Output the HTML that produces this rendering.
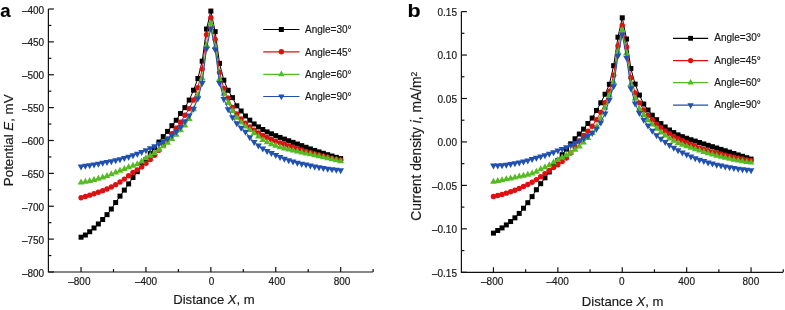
<!DOCTYPE html>
<html><head><meta charset="utf-8"><title>Figure</title>
<style>html,body{margin:0;padding:0;background:#fff;width:785px;height:310px;overflow:hidden}svg{display:block}</style>
</head><body>
<svg width="785" height="310" viewBox="0 0 785 310">
<style>
text{font-family:"Liberation Sans", Arial, sans-serif;fill:#1a1a1a;stroke:#1a1a1a;stroke-width:0.18px}
.tl{font-size:10px}
.ax{font-size:13.1px}
.pl{font-size:18.5px;font-weight:bold;fill:#000}
</style>
<rect width="785" height="310" fill="#fff"/>
<text x="0.3" y="16.8" class="pl">a</text>
<text x="407.6" y="17.2" class="pl" transform="translate(407.6,0) scale(1.13,1) translate(-407.6,0)" style="font-size:19px">b</text>
<path d="M48.40 9.00V272.00H372.90" fill="none" stroke="#111" stroke-width="1.2"/>
<path d="M48.40 9.00h5.5" stroke="#111" stroke-width="1.2"/>
<path d="M48.40 41.88h5.5" stroke="#111" stroke-width="1.2"/>
<path d="M48.40 74.75h5.5" stroke="#111" stroke-width="1.2"/>
<path d="M48.40 107.62h5.5" stroke="#111" stroke-width="1.2"/>
<path d="M48.40 140.50h5.5" stroke="#111" stroke-width="1.2"/>
<path d="M48.40 173.38h5.5" stroke="#111" stroke-width="1.2"/>
<path d="M48.40 206.25h5.5" stroke="#111" stroke-width="1.2"/>
<path d="M48.40 239.12h5.5" stroke="#111" stroke-width="1.2"/>
<path d="M48.40 272.00h5.5" stroke="#111" stroke-width="1.2"/>
<path d="M48.40 25.44h3" stroke="#111" stroke-width="1.2"/>
<path d="M48.40 58.31h3" stroke="#111" stroke-width="1.2"/>
<path d="M48.40 91.19h3" stroke="#111" stroke-width="1.2"/>
<path d="M48.40 124.06h3" stroke="#111" stroke-width="1.2"/>
<path d="M48.40 156.94h3" stroke="#111" stroke-width="1.2"/>
<path d="M48.40 189.81h3" stroke="#111" stroke-width="1.2"/>
<path d="M48.40 222.69h3" stroke="#111" stroke-width="1.2"/>
<path d="M48.40 255.56h3" stroke="#111" stroke-width="1.2"/>
<text x="44.20" y="13.50" text-anchor="end" class="tl">–400</text>
<text x="44.20" y="46.38" text-anchor="end" class="tl">–450</text>
<text x="44.20" y="79.25" text-anchor="end" class="tl">–500</text>
<text x="44.20" y="112.12" text-anchor="end" class="tl">–550</text>
<text x="44.20" y="145.00" text-anchor="end" class="tl">–600</text>
<text x="44.20" y="177.88" text-anchor="end" class="tl">–650</text>
<text x="44.20" y="210.75" text-anchor="end" class="tl">–700</text>
<text x="44.20" y="243.62" text-anchor="end" class="tl">–750</text>
<text x="44.20" y="276.50" text-anchor="end" class="tl">–800</text>
<path d="M81.05 272.00v-5" stroke="#111" stroke-width="1.2"/>
<text x="79.37" y="285.00" text-anchor="middle" class="tl">–800</text>
<path d="M145.95 272.00v-5" stroke="#111" stroke-width="1.2"/>
<text x="146.06" y="285.00" text-anchor="middle" class="tl">–400</text>
<path d="M210.85 272.00v-5" stroke="#111" stroke-width="1.2"/>
<text x="211.58" y="285.00" text-anchor="middle" class="tl">0</text>
<path d="M275.75 272.00v-5" stroke="#111" stroke-width="1.2"/>
<text x="276.93" y="285.00" text-anchor="middle" class="tl">400</text>
<path d="M340.65 272.00v-5" stroke="#111" stroke-width="1.2"/>
<text x="342.06" y="285.00" text-anchor="middle" class="tl">800</text>
<path d="M113.50 272.00v-3" stroke="#111" stroke-width="1.2"/>
<path d="M178.40 272.00v-3" stroke="#111" stroke-width="1.2"/>
<path d="M243.30 272.00v-3" stroke="#111" stroke-width="1.2"/>
<path d="M308.20 272.00v-3" stroke="#111" stroke-width="1.2"/>
<path d="M373.10 272.00v-3" stroke="#111" stroke-width="1.2"/>
<path d="M461.40 11.60V272.30H783.00" fill="none" stroke="#111" stroke-width="1.2"/>
<path d="M461.40 11.60h5.5" stroke="#111" stroke-width="1.2"/>
<path d="M461.40 55.05h5.5" stroke="#111" stroke-width="1.2"/>
<path d="M461.40 98.50h5.5" stroke="#111" stroke-width="1.2"/>
<path d="M461.40 141.95h5.5" stroke="#111" stroke-width="1.2"/>
<path d="M461.40 185.40h5.5" stroke="#111" stroke-width="1.2"/>
<path d="M461.40 228.85h5.5" stroke="#111" stroke-width="1.2"/>
<path d="M461.40 272.30h5.5" stroke="#111" stroke-width="1.2"/>
<path d="M461.40 33.32h3" stroke="#111" stroke-width="1.2"/>
<path d="M461.40 76.77h3" stroke="#111" stroke-width="1.2"/>
<path d="M461.40 120.22h3" stroke="#111" stroke-width="1.2"/>
<path d="M461.40 163.67h3" stroke="#111" stroke-width="1.2"/>
<path d="M461.40 207.12h3" stroke="#111" stroke-width="1.2"/>
<path d="M461.40 250.57h3" stroke="#111" stroke-width="1.2"/>
<text x="457.00" y="15.80" text-anchor="end" class="tl">0.15</text>
<text x="457.00" y="59.25" text-anchor="end" class="tl">0.10</text>
<text x="457.00" y="102.70" text-anchor="end" class="tl">0.05</text>
<text x="457.00" y="146.15" text-anchor="end" class="tl">0.00</text>
<text x="457.00" y="189.60" text-anchor="end" class="tl">–0.05</text>
<text x="457.00" y="233.05" text-anchor="end" class="tl">–0.10</text>
<text x="457.00" y="276.50" text-anchor="end" class="tl">–0.15</text>
<path d="M493.45 272.30v-5" stroke="#111" stroke-width="1.2"/>
<text x="492.17" y="285.30" text-anchor="middle" class="tl">–800</text>
<path d="M557.85 272.30v-5" stroke="#111" stroke-width="1.2"/>
<text x="557.67" y="285.30" text-anchor="middle" class="tl">–400</text>
<path d="M622.25 272.30v-5" stroke="#111" stroke-width="1.2"/>
<text x="621.81" y="285.30" text-anchor="middle" class="tl">0</text>
<path d="M686.65 272.30v-5" stroke="#111" stroke-width="1.2"/>
<text x="686.65" y="285.30" text-anchor="middle" class="tl">400</text>
<path d="M751.05 272.30v-5" stroke="#111" stroke-width="1.2"/>
<text x="750.90" y="285.30" text-anchor="middle" class="tl">800</text>
<path d="M525.65 272.30v-3" stroke="#111" stroke-width="1.2"/>
<path d="M590.05 272.30v-3" stroke="#111" stroke-width="1.2"/>
<path d="M654.45 272.30v-3" stroke="#111" stroke-width="1.2"/>
<path d="M718.85 272.30v-3" stroke="#111" stroke-width="1.2"/>
<path d="M783.25 272.30v-3" stroke="#111" stroke-width="1.2"/>
<text class="ax" transform="translate(12.9,140.3) rotate(-90)" text-anchor="middle" style="font-size:13.3px">Potential <tspan font-style="italic">E</tspan>, mV</text>
<text class="ax" transform="translate(421.1,146.2) rotate(-90)" text-anchor="middle" style="font-size:13.8px">Current density <tspan font-style="italic">i</tspan>, mA/m<tspan font-size="8.5px" dy="-4.5">2</tspan></text>
<text class="ax" x="214" y="304.1" text-anchor="middle">Distance <tspan font-style="italic">X</tspan>, m</text>
<text class="ax" x="622.6" y="306.2" text-anchor="middle">Distance <tspan font-style="italic">X</tspan>, m</text>
<g fill="#000000" stroke="none"><polyline points="81.05,237.21 85.38,235.03 89.70,231.74 94.03,227.99 98.36,223.95 102.68,219.50 107.01,214.65 111.34,209.01 115.66,202.56 119.99,196.13 124.32,190.13 128.64,183.89 132.97,177.46 137.30,171.67 141.62,165.66 145.95,159.57 150.28,153.62 154.60,147.79 158.93,142.09 163.26,136.59 167.58,131.40 171.91,125.69 176.24,120.25 180.56,113.54 184.89,107.61 189.22,100.08 193.54,90.20 197.87,78.52 202.20,61.18 206.52,29.04 210.85,11.07 215.18,31.63 219.50,63.34 223.83,80.18 228.16,90.31 232.48,97.63 236.81,105.81 241.14,110.98 245.46,115.97 249.79,120.18 254.12,123.97 258.44,126.89 262.77,129.50 267.10,131.90 271.42,133.80 275.75,135.66 280.08,137.41 284.40,139.10 288.73,140.75 293.06,142.38 297.38,144.02 301.71,145.66 306.04,147.29 310.36,148.89 314.69,150.42 319.02,151.89 323.34,153.32 327.67,154.71 332.00,156.05 336.32,157.36 340.65,158.61" fill="none" stroke="#000000" stroke-width="1"/>
<rect x="78.55" y="234.71" width="5.00" height="5.00"/><rect x="82.88" y="232.53" width="5.00" height="5.00"/><rect x="87.20" y="229.24" width="5.00" height="5.00"/><rect x="91.53" y="225.49" width="5.00" height="5.00"/><rect x="95.86" y="221.45" width="5.00" height="5.00"/><rect x="100.18" y="217.00" width="5.00" height="5.00"/><rect x="104.51" y="212.15" width="5.00" height="5.00"/><rect x="108.84" y="206.51" width="5.00" height="5.00"/><rect x="113.16" y="200.06" width="5.00" height="5.00"/><rect x="117.49" y="193.63" width="5.00" height="5.00"/><rect x="121.82" y="187.63" width="5.00" height="5.00"/><rect x="126.14" y="181.39" width="5.00" height="5.00"/><rect x="130.47" y="174.96" width="5.00" height="5.00"/><rect x="134.80" y="169.17" width="5.00" height="5.00"/><rect x="139.12" y="163.16" width="5.00" height="5.00"/><rect x="143.45" y="157.07" width="5.00" height="5.00"/><rect x="147.78" y="151.12" width="5.00" height="5.00"/><rect x="152.10" y="145.29" width="5.00" height="5.00"/><rect x="156.43" y="139.59" width="5.00" height="5.00"/><rect x="160.76" y="134.09" width="5.00" height="5.00"/><rect x="165.08" y="128.90" width="5.00" height="5.00"/><rect x="169.41" y="123.19" width="5.00" height="5.00"/><rect x="173.74" y="117.75" width="5.00" height="5.00"/><rect x="178.06" y="111.04" width="5.00" height="5.00"/><rect x="182.39" y="105.11" width="5.00" height="5.00"/><rect x="186.72" y="97.58" width="5.00" height="5.00"/><rect x="191.04" y="87.70" width="5.00" height="5.00"/><rect x="195.37" y="76.02" width="5.00" height="5.00"/><rect x="199.70" y="58.68" width="5.00" height="5.00"/><rect x="204.02" y="26.54" width="5.00" height="5.00"/><rect x="208.35" y="8.57" width="5.00" height="5.00"/><rect x="212.68" y="29.13" width="5.00" height="5.00"/><rect x="217.00" y="60.84" width="5.00" height="5.00"/><rect x="221.33" y="77.68" width="5.00" height="5.00"/><rect x="225.66" y="87.81" width="5.00" height="5.00"/><rect x="229.98" y="95.13" width="5.00" height="5.00"/><rect x="234.31" y="103.31" width="5.00" height="5.00"/><rect x="238.64" y="108.48" width="5.00" height="5.00"/><rect x="242.96" y="113.47" width="5.00" height="5.00"/><rect x="247.29" y="117.68" width="5.00" height="5.00"/><rect x="251.62" y="121.47" width="5.00" height="5.00"/><rect x="255.94" y="124.39" width="5.00" height="5.00"/><rect x="260.27" y="127.00" width="5.00" height="5.00"/><rect x="264.60" y="129.40" width="5.00" height="5.00"/><rect x="268.92" y="131.30" width="5.00" height="5.00"/><rect x="273.25" y="133.16" width="5.00" height="5.00"/><rect x="277.58" y="134.91" width="5.00" height="5.00"/><rect x="281.90" y="136.60" width="5.00" height="5.00"/><rect x="286.23" y="138.25" width="5.00" height="5.00"/><rect x="290.56" y="139.88" width="5.00" height="5.00"/><rect x="294.88" y="141.52" width="5.00" height="5.00"/><rect x="299.21" y="143.16" width="5.00" height="5.00"/><rect x="303.54" y="144.79" width="5.00" height="5.00"/><rect x="307.86" y="146.39" width="5.00" height="5.00"/><rect x="312.19" y="147.92" width="5.00" height="5.00"/><rect x="316.52" y="149.39" width="5.00" height="5.00"/><rect x="320.84" y="150.82" width="5.00" height="5.00"/><rect x="325.17" y="152.21" width="5.00" height="5.00"/><rect x="329.50" y="153.55" width="5.00" height="5.00"/><rect x="333.82" y="154.86" width="5.00" height="5.00"/><rect x="338.15" y="156.11" width="5.00" height="5.00"/>
</g>
<g fill="#dd1111" stroke="none"><polyline points="81.05,197.80 85.38,196.52 89.70,195.17 94.03,193.76 98.36,192.28 102.68,190.76 107.01,189.07 111.34,187.04 115.66,184.65 119.99,181.93 124.32,179.10 128.64,175.79 132.97,172.52 137.30,169.86 141.62,166.91 145.95,163.33 150.28,159.62 154.60,155.27 158.93,150.29 163.26,144.91 167.58,139.32 171.91,133.66 176.24,128.13 180.56,122.32 184.89,115.31 189.22,108.66 193.54,100.05 197.87,87.67 202.20,69.12 206.52,34.72 210.85,17.67 215.18,39.36 219.50,72.52 223.83,88.35 228.16,98.25 232.48,107.33 236.81,113.98 241.14,119.05 245.46,123.15 249.79,126.95 254.12,130.15 258.44,132.89 262.77,135.48 267.10,137.55 271.42,139.45 275.75,141.20 280.08,142.84 284.40,144.39 288.73,145.85 293.06,147.27 297.38,148.66 301.71,150.01 306.04,151.34 310.36,152.62 314.69,153.86 319.02,155.06 323.34,156.20 327.67,157.30 332.00,158.33 336.32,159.30 340.65,160.21" fill="none" stroke="#dd1111" stroke-width="1"/>
<circle cx="81.05" cy="197.80" r="2.70"/><circle cx="85.38" cy="196.52" r="2.70"/><circle cx="89.70" cy="195.17" r="2.70"/><circle cx="94.03" cy="193.76" r="2.70"/><circle cx="98.36" cy="192.28" r="2.70"/><circle cx="102.68" cy="190.76" r="2.70"/><circle cx="107.01" cy="189.07" r="2.70"/><circle cx="111.34" cy="187.04" r="2.70"/><circle cx="115.66" cy="184.65" r="2.70"/><circle cx="119.99" cy="181.93" r="2.70"/><circle cx="124.32" cy="179.10" r="2.70"/><circle cx="128.64" cy="175.79" r="2.70"/><circle cx="132.97" cy="172.52" r="2.70"/><circle cx="137.30" cy="169.86" r="2.70"/><circle cx="141.62" cy="166.91" r="2.70"/><circle cx="145.95" cy="163.33" r="2.70"/><circle cx="150.28" cy="159.62" r="2.70"/><circle cx="154.60" cy="155.27" r="2.70"/><circle cx="158.93" cy="150.29" r="2.70"/><circle cx="163.26" cy="144.91" r="2.70"/><circle cx="167.58" cy="139.32" r="2.70"/><circle cx="171.91" cy="133.66" r="2.70"/><circle cx="176.24" cy="128.13" r="2.70"/><circle cx="180.56" cy="122.32" r="2.70"/><circle cx="184.89" cy="115.31" r="2.70"/><circle cx="189.22" cy="108.66" r="2.70"/><circle cx="193.54" cy="100.05" r="2.70"/><circle cx="197.87" cy="87.67" r="2.70"/><circle cx="202.20" cy="69.12" r="2.70"/><circle cx="206.52" cy="34.72" r="2.70"/><circle cx="210.85" cy="17.67" r="2.70"/><circle cx="215.18" cy="39.36" r="2.70"/><circle cx="219.50" cy="72.52" r="2.70"/><circle cx="223.83" cy="88.35" r="2.70"/><circle cx="228.16" cy="98.25" r="2.70"/><circle cx="232.48" cy="107.33" r="2.70"/><circle cx="236.81" cy="113.98" r="2.70"/><circle cx="241.14" cy="119.05" r="2.70"/><circle cx="245.46" cy="123.15" r="2.70"/><circle cx="249.79" cy="126.95" r="2.70"/><circle cx="254.12" cy="130.15" r="2.70"/><circle cx="258.44" cy="132.89" r="2.70"/><circle cx="262.77" cy="135.48" r="2.70"/><circle cx="267.10" cy="137.55" r="2.70"/><circle cx="271.42" cy="139.45" r="2.70"/><circle cx="275.75" cy="141.20" r="2.70"/><circle cx="280.08" cy="142.84" r="2.70"/><circle cx="284.40" cy="144.39" r="2.70"/><circle cx="288.73" cy="145.85" r="2.70"/><circle cx="293.06" cy="147.27" r="2.70"/><circle cx="297.38" cy="148.66" r="2.70"/><circle cx="301.71" cy="150.01" r="2.70"/><circle cx="306.04" cy="151.34" r="2.70"/><circle cx="310.36" cy="152.62" r="2.70"/><circle cx="314.69" cy="153.86" r="2.70"/><circle cx="319.02" cy="155.06" r="2.70"/><circle cx="323.34" cy="156.20" r="2.70"/><circle cx="327.67" cy="157.30" r="2.70"/><circle cx="332.00" cy="158.33" r="2.70"/><circle cx="336.32" cy="159.30" r="2.70"/><circle cx="340.65" cy="160.21" r="2.70"/>
</g>
<g fill="#55bb22" stroke="none"><polyline points="81.05,182.52 85.38,181.82 89.70,180.94 94.03,179.92 98.36,178.77 102.68,177.54 107.01,176.04 111.34,174.34 115.66,172.62 119.99,170.81 124.32,168.96 128.64,167.25 132.97,165.83 137.30,164.22 141.62,161.62 145.95,158.37 150.28,155.62 154.60,152.92 158.93,149.78 163.26,146.28 167.58,142.71 171.91,138.96 176.24,134.83 180.56,130.31 184.89,125.48 189.22,118.89 193.54,109.31 197.87,95.25 202.20,78.40 206.52,45.56 210.85,23.58 215.18,47.12 219.50,79.15 223.83,93.71 228.16,103.01 232.48,110.91 236.81,117.68 241.14,122.54 245.46,126.54 249.79,129.94 254.12,133.09 258.44,136.52 262.77,139.89 267.10,142.37 271.42,144.19 275.75,145.78 280.08,147.16 284.40,148.40 288.73,149.53 293.06,150.60 297.38,151.60 301.71,152.49 306.04,153.43 310.36,154.37 314.69,155.32 319.02,156.28 323.34,157.25 327.67,158.22 332.00,159.21 336.32,160.20 340.65,161.21" fill="none" stroke="#55bb22" stroke-width="1"/>
<path d="M81.05 178.52L84.45 184.52L77.65 184.52Z"/><path d="M85.38 177.82L88.78 183.82L81.98 183.82Z"/><path d="M89.70 176.94L93.10 182.94L86.30 182.94Z"/><path d="M94.03 175.92L97.43 181.92L90.63 181.92Z"/><path d="M98.36 174.77L101.76 180.77L94.96 180.77Z"/><path d="M102.68 173.54L106.08 179.54L99.28 179.54Z"/><path d="M107.01 172.04L110.41 178.04L103.61 178.04Z"/><path d="M111.34 170.34L114.74 176.34L107.94 176.34Z"/><path d="M115.66 168.62L119.06 174.62L112.26 174.62Z"/><path d="M119.99 166.81L123.39 172.81L116.59 172.81Z"/><path d="M124.32 164.96L127.72 170.96L120.92 170.96Z"/><path d="M128.64 163.25L132.04 169.25L125.24 169.25Z"/><path d="M132.97 161.83L136.37 167.83L129.57 167.83Z"/><path d="M137.30 160.22L140.70 166.22L133.90 166.22Z"/><path d="M141.62 157.62L145.02 163.62L138.22 163.62Z"/><path d="M145.95 154.37L149.35 160.37L142.55 160.37Z"/><path d="M150.28 151.62L153.68 157.62L146.88 157.62Z"/><path d="M154.60 148.92L158.00 154.92L151.20 154.92Z"/><path d="M158.93 145.78L162.33 151.78L155.53 151.78Z"/><path d="M163.26 142.28L166.66 148.28L159.86 148.28Z"/><path d="M167.58 138.71L170.98 144.71L164.18 144.71Z"/><path d="M171.91 134.96L175.31 140.96L168.51 140.96Z"/><path d="M176.24 130.83L179.64 136.83L172.84 136.83Z"/><path d="M180.56 126.31L183.96 132.31L177.16 132.31Z"/><path d="M184.89 121.48L188.29 127.48L181.49 127.48Z"/><path d="M189.22 114.89L192.62 120.89L185.82 120.89Z"/><path d="M193.54 105.31L196.94 111.31L190.14 111.31Z"/><path d="M197.87 91.25L201.27 97.25L194.47 97.25Z"/><path d="M202.20 74.40L205.60 80.40L198.80 80.40Z"/><path d="M206.52 41.56L209.92 47.56L203.12 47.56Z"/><path d="M210.85 19.58L214.25 25.58L207.45 25.58Z"/><path d="M215.18 43.12L218.58 49.12L211.78 49.12Z"/><path d="M219.50 75.15L222.90 81.15L216.10 81.15Z"/><path d="M223.83 89.71L227.23 95.71L220.43 95.71Z"/><path d="M228.16 99.01L231.56 105.01L224.76 105.01Z"/><path d="M232.48 106.91L235.88 112.91L229.08 112.91Z"/><path d="M236.81 113.68L240.21 119.68L233.41 119.68Z"/><path d="M241.14 118.54L244.54 124.54L237.74 124.54Z"/><path d="M245.46 122.54L248.86 128.54L242.06 128.54Z"/><path d="M249.79 125.94L253.19 131.94L246.39 131.94Z"/><path d="M254.12 129.09L257.52 135.09L250.72 135.09Z"/><path d="M258.44 132.52L261.84 138.52L255.04 138.52Z"/><path d="M262.77 135.89L266.17 141.89L259.37 141.89Z"/><path d="M267.10 138.37L270.50 144.37L263.70 144.37Z"/><path d="M271.42 140.19L274.82 146.19L268.02 146.19Z"/><path d="M275.75 141.78L279.15 147.78L272.35 147.78Z"/><path d="M280.08 143.16L283.48 149.16L276.68 149.16Z"/><path d="M284.40 144.40L287.80 150.40L281.00 150.40Z"/><path d="M288.73 145.53L292.13 151.53L285.33 151.53Z"/><path d="M293.06 146.60L296.46 152.60L289.66 152.60Z"/><path d="M297.38 147.60L300.78 153.60L293.98 153.60Z"/><path d="M301.71 148.49L305.11 154.49L298.31 154.49Z"/><path d="M306.04 149.43L309.44 155.43L302.64 155.43Z"/><path d="M310.36 150.37L313.76 156.37L306.96 156.37Z"/><path d="M314.69 151.32L318.09 157.32L311.29 157.32Z"/><path d="M319.02 152.28L322.42 158.28L315.62 158.28Z"/><path d="M323.34 153.25L326.74 159.25L319.94 159.25Z"/><path d="M327.67 154.22L331.07 160.22L324.27 160.22Z"/><path d="M332.00 155.21L335.40 161.21L328.60 161.21Z"/><path d="M336.32 156.20L339.72 162.20L332.92 162.20Z"/><path d="M340.65 157.21L344.05 163.21L337.25 163.21Z"/>
</g>
<g fill="#2050b0" stroke="none"><polyline points="81.05,166.46 85.38,165.83 89.70,165.14 94.03,164.41 98.36,163.64 102.68,162.83 107.01,162.00 111.34,161.14 115.66,160.23 119.99,159.24 124.32,158.12 128.64,156.82 132.97,155.32 137.30,153.69 141.62,151.99 145.95,150.19 150.28,148.23 154.60,146.13 158.93,143.81 163.26,141.23 167.58,138.43 171.91,135.31 176.24,131.49 180.56,126.89 184.89,121.29 189.22,115.42 193.54,108.87 197.87,98.60 202.20,82.98 206.52,48.80 210.85,28.47 215.18,49.57 219.50,82.92 223.83,98.88 228.16,109.33 232.48,117.29 236.81,123.15 241.14,127.73 245.46,131.78 249.79,137.22 254.12,142.01 258.44,145.60 262.77,148.40 267.10,150.91 271.42,153.11 275.75,155.07 280.08,156.93 284.40,158.70 288.73,160.21 293.06,161.50 297.38,162.68 301.71,163.69 306.04,164.62 310.36,165.52 314.69,166.38 319.02,167.20 323.34,167.97 327.67,168.67 332.00,169.30 336.32,169.85 340.65,170.30" fill="none" stroke="#2050b0" stroke-width="1"/>
<path d="M81.05 170.46L84.45 164.46L77.65 164.46Z"/><path d="M85.38 169.83L88.78 163.83L81.98 163.83Z"/><path d="M89.70 169.14L93.10 163.14L86.30 163.14Z"/><path d="M94.03 168.41L97.43 162.41L90.63 162.41Z"/><path d="M98.36 167.64L101.76 161.64L94.96 161.64Z"/><path d="M102.68 166.83L106.08 160.83L99.28 160.83Z"/><path d="M107.01 166.00L110.41 160.00L103.61 160.00Z"/><path d="M111.34 165.14L114.74 159.14L107.94 159.14Z"/><path d="M115.66 164.23L119.06 158.23L112.26 158.23Z"/><path d="M119.99 163.24L123.39 157.24L116.59 157.24Z"/><path d="M124.32 162.12L127.72 156.12L120.92 156.12Z"/><path d="M128.64 160.82L132.04 154.82L125.24 154.82Z"/><path d="M132.97 159.32L136.37 153.32L129.57 153.32Z"/><path d="M137.30 157.69L140.70 151.69L133.90 151.69Z"/><path d="M141.62 155.99L145.02 149.99L138.22 149.99Z"/><path d="M145.95 154.19L149.35 148.19L142.55 148.19Z"/><path d="M150.28 152.23L153.68 146.23L146.88 146.23Z"/><path d="M154.60 150.13L158.00 144.13L151.20 144.13Z"/><path d="M158.93 147.81L162.33 141.81L155.53 141.81Z"/><path d="M163.26 145.23L166.66 139.23L159.86 139.23Z"/><path d="M167.58 142.43L170.98 136.43L164.18 136.43Z"/><path d="M171.91 139.31L175.31 133.31L168.51 133.31Z"/><path d="M176.24 135.49L179.64 129.49L172.84 129.49Z"/><path d="M180.56 130.89L183.96 124.89L177.16 124.89Z"/><path d="M184.89 125.29L188.29 119.29L181.49 119.29Z"/><path d="M189.22 119.42L192.62 113.42L185.82 113.42Z"/><path d="M193.54 112.87L196.94 106.87L190.14 106.87Z"/><path d="M197.87 102.60L201.27 96.60L194.47 96.60Z"/><path d="M202.20 86.98L205.60 80.98L198.80 80.98Z"/><path d="M206.52 52.80L209.92 46.80L203.12 46.80Z"/><path d="M210.85 32.47L214.25 26.47L207.45 26.47Z"/><path d="M215.18 53.57L218.58 47.57L211.78 47.57Z"/><path d="M219.50 86.92L222.90 80.92L216.10 80.92Z"/><path d="M223.83 102.88L227.23 96.88L220.43 96.88Z"/><path d="M228.16 113.33L231.56 107.33L224.76 107.33Z"/><path d="M232.48 121.29L235.88 115.29L229.08 115.29Z"/><path d="M236.81 127.15L240.21 121.15L233.41 121.15Z"/><path d="M241.14 131.73L244.54 125.73L237.74 125.73Z"/><path d="M245.46 135.78L248.86 129.78L242.06 129.78Z"/><path d="M249.79 141.22L253.19 135.22L246.39 135.22Z"/><path d="M254.12 146.01L257.52 140.01L250.72 140.01Z"/><path d="M258.44 149.60L261.84 143.60L255.04 143.60Z"/><path d="M262.77 152.40L266.17 146.40L259.37 146.40Z"/><path d="M267.10 154.91L270.50 148.91L263.70 148.91Z"/><path d="M271.42 157.11L274.82 151.11L268.02 151.11Z"/><path d="M275.75 159.07L279.15 153.07L272.35 153.07Z"/><path d="M280.08 160.93L283.48 154.93L276.68 154.93Z"/><path d="M284.40 162.70L287.80 156.70L281.00 156.70Z"/><path d="M288.73 164.21L292.13 158.21L285.33 158.21Z"/><path d="M293.06 165.50L296.46 159.50L289.66 159.50Z"/><path d="M297.38 166.68L300.78 160.68L293.98 160.68Z"/><path d="M301.71 167.69L305.11 161.69L298.31 161.69Z"/><path d="M306.04 168.62L309.44 162.62L302.64 162.62Z"/><path d="M310.36 169.52L313.76 163.52L306.96 163.52Z"/><path d="M314.69 170.38L318.09 164.38L311.29 164.38Z"/><path d="M319.02 171.20L322.42 165.20L315.62 165.20Z"/><path d="M323.34 171.97L326.74 165.97L319.94 165.97Z"/><path d="M327.67 172.67L331.07 166.67L324.27 166.67Z"/><path d="M332.00 173.30L335.40 167.30L328.60 167.30Z"/><path d="M336.32 173.85L339.72 167.85L332.92 167.85Z"/><path d="M340.65 174.30L344.05 168.30L337.25 168.30Z"/>
</g>
<g fill="#000000" stroke="none"><polyline points="493.45,233.12 497.74,230.48 502.04,227.91 506.33,224.92 510.62,221.54 514.92,217.84 519.21,213.42 523.50,208.22 527.80,202.73 532.09,196.60 536.38,189.73 540.68,183.68 544.97,177.80 549.26,171.99 553.56,166.16 557.85,160.38 562.14,154.69 566.44,149.14 570.73,143.80 575.02,138.75 579.32,134.03 583.61,129.12 587.90,123.54 592.20,118.06 596.49,110.48 600.78,102.81 605.08,94.26 609.37,84.29 613.66,65.67 617.96,37.19 622.25,17.81 626.54,39.05 630.84,68.47 635.13,84.09 639.42,95.05 643.72,104.03 648.01,110.01 652.30,115.20 656.60,119.70 660.89,123.59 665.18,126.99 669.48,129.98 673.77,132.58 678.06,134.88 682.36,136.68 686.65,138.26 690.94,139.71 695.24,141.10 699.53,142.51 703.82,143.93 708.12,145.32 712.41,146.68 716.70,148.03 721.00,149.39 725.29,150.77 729.58,152.15 733.88,153.53 738.17,154.92 742.46,156.30 746.76,157.69 751.05,159.08" fill="none" stroke="#000000" stroke-width="1"/>
<rect x="490.95" y="230.62" width="5.00" height="5.00"/><rect x="495.24" y="227.98" width="5.00" height="5.00"/><rect x="499.54" y="225.41" width="5.00" height="5.00"/><rect x="503.83" y="222.42" width="5.00" height="5.00"/><rect x="508.12" y="219.04" width="5.00" height="5.00"/><rect x="512.42" y="215.34" width="5.00" height="5.00"/><rect x="516.71" y="210.92" width="5.00" height="5.00"/><rect x="521.00" y="205.72" width="5.00" height="5.00"/><rect x="525.30" y="200.23" width="5.00" height="5.00"/><rect x="529.59" y="194.10" width="5.00" height="5.00"/><rect x="533.88" y="187.23" width="5.00" height="5.00"/><rect x="538.18" y="181.18" width="5.00" height="5.00"/><rect x="542.47" y="175.30" width="5.00" height="5.00"/><rect x="546.76" y="169.49" width="5.00" height="5.00"/><rect x="551.06" y="163.66" width="5.00" height="5.00"/><rect x="555.35" y="157.88" width="5.00" height="5.00"/><rect x="559.64" y="152.19" width="5.00" height="5.00"/><rect x="563.94" y="146.64" width="5.00" height="5.00"/><rect x="568.23" y="141.30" width="5.00" height="5.00"/><rect x="572.52" y="136.25" width="5.00" height="5.00"/><rect x="576.82" y="131.53" width="5.00" height="5.00"/><rect x="581.11" y="126.62" width="5.00" height="5.00"/><rect x="585.40" y="121.04" width="5.00" height="5.00"/><rect x="589.70" y="115.56" width="5.00" height="5.00"/><rect x="593.99" y="107.98" width="5.00" height="5.00"/><rect x="598.28" y="100.31" width="5.00" height="5.00"/><rect x="602.58" y="91.76" width="5.00" height="5.00"/><rect x="606.87" y="81.79" width="5.00" height="5.00"/><rect x="611.16" y="63.17" width="5.00" height="5.00"/><rect x="615.46" y="34.69" width="5.00" height="5.00"/><rect x="619.75" y="15.31" width="5.00" height="5.00"/><rect x="624.04" y="36.55" width="5.00" height="5.00"/><rect x="628.34" y="65.97" width="5.00" height="5.00"/><rect x="632.63" y="81.59" width="5.00" height="5.00"/><rect x="636.92" y="92.55" width="5.00" height="5.00"/><rect x="641.22" y="101.53" width="5.00" height="5.00"/><rect x="645.51" y="107.51" width="5.00" height="5.00"/><rect x="649.80" y="112.70" width="5.00" height="5.00"/><rect x="654.10" y="117.20" width="5.00" height="5.00"/><rect x="658.39" y="121.09" width="5.00" height="5.00"/><rect x="662.68" y="124.49" width="5.00" height="5.00"/><rect x="666.98" y="127.48" width="5.00" height="5.00"/><rect x="671.27" y="130.08" width="5.00" height="5.00"/><rect x="675.56" y="132.38" width="5.00" height="5.00"/><rect x="679.86" y="134.18" width="5.00" height="5.00"/><rect x="684.15" y="135.76" width="5.00" height="5.00"/><rect x="688.44" y="137.21" width="5.00" height="5.00"/><rect x="692.74" y="138.60" width="5.00" height="5.00"/><rect x="697.03" y="140.01" width="5.00" height="5.00"/><rect x="701.32" y="141.43" width="5.00" height="5.00"/><rect x="705.62" y="142.82" width="5.00" height="5.00"/><rect x="709.91" y="144.18" width="5.00" height="5.00"/><rect x="714.20" y="145.53" width="5.00" height="5.00"/><rect x="718.50" y="146.89" width="5.00" height="5.00"/><rect x="722.79" y="148.27" width="5.00" height="5.00"/><rect x="727.08" y="149.65" width="5.00" height="5.00"/><rect x="731.38" y="151.03" width="5.00" height="5.00"/><rect x="735.67" y="152.42" width="5.00" height="5.00"/><rect x="739.96" y="153.80" width="5.00" height="5.00"/><rect x="744.26" y="155.19" width="5.00" height="5.00"/><rect x="748.55" y="156.58" width="5.00" height="5.00"/>
</g>
<g fill="#dd1111" stroke="none"><polyline points="493.45,196.51 497.74,195.54 502.04,194.41 506.33,193.14 510.62,191.75 514.92,190.20 519.21,188.46 523.50,186.55 527.80,184.47 532.09,182.24 536.38,179.58 540.68,176.65 544.97,173.59 549.26,170.47 553.56,167.53 557.85,164.68 562.14,161.61 566.44,157.96 570.73,153.05 575.02,147.05 579.32,140.91 583.61,135.56 587.90,131.28 592.20,126.18 596.49,119.68 600.78,112.34 605.08,102.80 609.37,91.09 613.66,75.19 617.96,45.88 622.25,25.51 626.54,47.06 630.84,77.67 635.13,92.88 639.42,102.85 643.72,110.02 648.01,115.51 652.30,120.00 656.60,124.10 660.89,127.69 665.18,130.99 669.48,133.79 673.77,136.38 678.06,138.68 682.36,140.74 686.65,142.72 690.94,144.59 695.24,146.33 699.53,147.91 703.82,149.33 708.12,150.65 712.41,151.88 716.70,153.03 721.00,154.13 725.29,155.18 729.58,156.21 733.88,157.19 738.17,158.13 742.46,159.02 746.76,159.86 751.05,160.64" fill="none" stroke="#dd1111" stroke-width="1"/>
<circle cx="493.45" cy="196.51" r="2.70"/><circle cx="497.74" cy="195.54" r="2.70"/><circle cx="502.04" cy="194.41" r="2.70"/><circle cx="506.33" cy="193.14" r="2.70"/><circle cx="510.62" cy="191.75" r="2.70"/><circle cx="514.92" cy="190.20" r="2.70"/><circle cx="519.21" cy="188.46" r="2.70"/><circle cx="523.50" cy="186.55" r="2.70"/><circle cx="527.80" cy="184.47" r="2.70"/><circle cx="532.09" cy="182.24" r="2.70"/><circle cx="536.38" cy="179.58" r="2.70"/><circle cx="540.68" cy="176.65" r="2.70"/><circle cx="544.97" cy="173.59" r="2.70"/><circle cx="549.26" cy="170.47" r="2.70"/><circle cx="553.56" cy="167.53" r="2.70"/><circle cx="557.85" cy="164.68" r="2.70"/><circle cx="562.14" cy="161.61" r="2.70"/><circle cx="566.44" cy="157.96" r="2.70"/><circle cx="570.73" cy="153.05" r="2.70"/><circle cx="575.02" cy="147.05" r="2.70"/><circle cx="579.32" cy="140.91" r="2.70"/><circle cx="583.61" cy="135.56" r="2.70"/><circle cx="587.90" cy="131.28" r="2.70"/><circle cx="592.20" cy="126.18" r="2.70"/><circle cx="596.49" cy="119.68" r="2.70"/><circle cx="600.78" cy="112.34" r="2.70"/><circle cx="605.08" cy="102.80" r="2.70"/><circle cx="609.37" cy="91.09" r="2.70"/><circle cx="613.66" cy="75.19" r="2.70"/><circle cx="617.96" cy="45.88" r="2.70"/><circle cx="622.25" cy="25.51" r="2.70"/><circle cx="626.54" cy="47.06" r="2.70"/><circle cx="630.84" cy="77.67" r="2.70"/><circle cx="635.13" cy="92.88" r="2.70"/><circle cx="639.42" cy="102.85" r="2.70"/><circle cx="643.72" cy="110.02" r="2.70"/><circle cx="648.01" cy="115.51" r="2.70"/><circle cx="652.30" cy="120.00" r="2.70"/><circle cx="656.60" cy="124.10" r="2.70"/><circle cx="660.89" cy="127.69" r="2.70"/><circle cx="665.18" cy="130.99" r="2.70"/><circle cx="669.48" cy="133.79" r="2.70"/><circle cx="673.77" cy="136.38" r="2.70"/><circle cx="678.06" cy="138.68" r="2.70"/><circle cx="682.36" cy="140.74" r="2.70"/><circle cx="686.65" cy="142.72" r="2.70"/><circle cx="690.94" cy="144.59" r="2.70"/><circle cx="695.24" cy="146.33" r="2.70"/><circle cx="699.53" cy="147.91" r="2.70"/><circle cx="703.82" cy="149.33" r="2.70"/><circle cx="708.12" cy="150.65" r="2.70"/><circle cx="712.41" cy="151.88" r="2.70"/><circle cx="716.70" cy="153.03" r="2.70"/><circle cx="721.00" cy="154.13" r="2.70"/><circle cx="725.29" cy="155.18" r="2.70"/><circle cx="729.58" cy="156.21" r="2.70"/><circle cx="733.88" cy="157.19" r="2.70"/><circle cx="738.17" cy="158.13" r="2.70"/><circle cx="742.46" cy="159.02" r="2.70"/><circle cx="746.76" cy="159.86" r="2.70"/><circle cx="751.05" cy="160.64" r="2.70"/>
</g>
<g fill="#55bb22" stroke="none"><polyline points="493.45,181.81 497.74,181.03 502.04,180.21 506.33,179.35 510.62,178.46 514.92,177.55 519.21,176.61 523.50,175.66 527.80,174.72 532.09,173.61 536.38,171.65 540.68,169.36 544.97,167.30 549.26,165.13 553.56,162.58 557.85,159.92 562.14,157.57 566.44,155.25 570.73,152.67 575.02,149.80 579.32,146.39 583.61,142.44 587.90,137.98 592.20,133.01 596.49,126.88 600.78,118.29 605.08,107.66 609.37,95.22 613.66,82.33 617.96,51.96 622.25,30.11 626.54,53.27 630.84,84.17 635.13,98.58 639.42,109.04 643.72,115.02 648.01,120.31 652.30,124.60 656.60,128.80 660.89,132.39 665.18,135.59 669.48,138.39 673.77,140.80 678.06,142.88 682.36,144.65 686.65,146.26 690.94,147.74 695.24,149.14 699.53,150.51 703.82,151.88 708.12,153.23 712.41,154.53 716.70,155.74 721.00,156.85 725.29,157.84 729.58,158.78 733.88,159.66 738.17,160.49 742.46,161.25 746.76,161.94 751.05,162.53" fill="none" stroke="#55bb22" stroke-width="1"/>
<path d="M493.45 177.81L496.85 183.81L490.05 183.81Z"/><path d="M497.74 177.03L501.14 183.03L494.34 183.03Z"/><path d="M502.04 176.21L505.44 182.21L498.64 182.21Z"/><path d="M506.33 175.35L509.73 181.35L502.93 181.35Z"/><path d="M510.62 174.46L514.02 180.46L507.22 180.46Z"/><path d="M514.92 173.55L518.32 179.55L511.52 179.55Z"/><path d="M519.21 172.61L522.61 178.61L515.81 178.61Z"/><path d="M523.50 171.66L526.90 177.66L520.10 177.66Z"/><path d="M527.80 170.72L531.20 176.72L524.40 176.72Z"/><path d="M532.09 169.61L535.49 175.61L528.69 175.61Z"/><path d="M536.38 167.65L539.78 173.65L532.98 173.65Z"/><path d="M540.68 165.36L544.08 171.36L537.28 171.36Z"/><path d="M544.97 163.30L548.37 169.30L541.57 169.30Z"/><path d="M549.26 161.13L552.66 167.13L545.86 167.13Z"/><path d="M553.56 158.58L556.96 164.58L550.16 164.58Z"/><path d="M557.85 155.92L561.25 161.92L554.45 161.92Z"/><path d="M562.14 153.57L565.54 159.57L558.74 159.57Z"/><path d="M566.44 151.25L569.84 157.25L563.04 157.25Z"/><path d="M570.73 148.67L574.13 154.67L567.33 154.67Z"/><path d="M575.02 145.80L578.42 151.80L571.62 151.80Z"/><path d="M579.32 142.39L582.72 148.39L575.92 148.39Z"/><path d="M583.61 138.44L587.01 144.44L580.21 144.44Z"/><path d="M587.90 133.98L591.30 139.98L584.50 139.98Z"/><path d="M592.20 129.01L595.60 135.01L588.80 135.01Z"/><path d="M596.49 122.88L599.89 128.88L593.09 128.88Z"/><path d="M600.78 114.29L604.18 120.29L597.38 120.29Z"/><path d="M605.08 103.66L608.48 109.66L601.68 109.66Z"/><path d="M609.37 91.22L612.77 97.22L605.97 97.22Z"/><path d="M613.66 78.33L617.06 84.33L610.26 84.33Z"/><path d="M617.96 47.96L621.36 53.96L614.56 53.96Z"/><path d="M622.25 26.11L625.65 32.11L618.85 32.11Z"/><path d="M626.54 49.27L629.94 55.27L623.14 55.27Z"/><path d="M630.84 80.17L634.24 86.17L627.44 86.17Z"/><path d="M635.13 94.58L638.53 100.58L631.73 100.58Z"/><path d="M639.42 105.04L642.82 111.04L636.02 111.04Z"/><path d="M643.72 111.02L647.12 117.02L640.32 117.02Z"/><path d="M648.01 116.31L651.41 122.31L644.61 122.31Z"/><path d="M652.30 120.60L655.70 126.60L648.90 126.60Z"/><path d="M656.60 124.80L660.00 130.80L653.20 130.80Z"/><path d="M660.89 128.39L664.29 134.39L657.49 134.39Z"/><path d="M665.18 131.59L668.58 137.59L661.78 137.59Z"/><path d="M669.48 134.39L672.88 140.39L666.08 140.39Z"/><path d="M673.77 136.80L677.17 142.80L670.37 142.80Z"/><path d="M678.06 138.88L681.46 144.88L674.66 144.88Z"/><path d="M682.36 140.65L685.76 146.65L678.96 146.65Z"/><path d="M686.65 142.26L690.05 148.26L683.25 148.26Z"/><path d="M690.94 143.74L694.34 149.74L687.54 149.74Z"/><path d="M695.24 145.14L698.64 151.14L691.84 151.14Z"/><path d="M699.53 146.51L702.93 152.51L696.13 152.51Z"/><path d="M703.82 147.88L707.22 153.88L700.42 153.88Z"/><path d="M708.12 149.23L711.52 155.23L704.72 155.23Z"/><path d="M712.41 150.53L715.81 156.53L709.01 156.53Z"/><path d="M716.70 151.74L720.10 157.74L713.30 157.74Z"/><path d="M721.00 152.85L724.40 158.85L717.60 158.85Z"/><path d="M725.29 153.84L728.69 159.84L721.89 159.84Z"/><path d="M729.58 154.78L732.98 160.78L726.18 160.78Z"/><path d="M733.88 155.66L737.28 161.66L730.48 161.66Z"/><path d="M738.17 156.49L741.57 162.49L734.77 162.49Z"/><path d="M742.46 157.25L745.86 163.25L739.06 163.25Z"/><path d="M746.76 157.94L750.16 163.94L743.36 163.94Z"/><path d="M751.05 158.53L754.45 164.53L747.65 164.53Z"/>
</g>
<g fill="#2050b0" stroke="none"><polyline points="493.45,165.60 497.74,165.48 502.04,165.15 506.33,164.66 510.62,164.02 514.92,163.28 519.21,162.46 523.50,161.58 527.80,160.54 532.09,159.11 536.38,157.86 540.68,156.58 544.97,155.16 549.26,153.68 553.56,152.18 557.85,150.61 562.14,148.94 566.44,147.14 570.73,145.13 575.02,142.95 579.32,140.80 583.61,138.62 587.90,136.07 592.20,132.96 596.49,128.83 600.78,122.43 605.08,113.38 609.37,99.82 613.66,86.22 617.96,55.77 622.25,34.61 626.54,57.77 630.84,88.17 635.13,103.58 639.42,113.04 643.72,119.82 648.01,125.61 652.30,130.80 656.60,135.20 660.89,138.78 665.18,142.08 669.48,145.09 673.77,147.82 678.06,150.28 682.36,152.51 686.65,154.58 690.94,156.46 695.24,158.18 699.53,159.71 703.82,161.10 708.12,162.40 712.41,163.58 716.70,164.66 721.00,165.62 725.29,166.46 729.58,167.25 733.88,168.00 738.17,168.68 742.46,169.29 746.76,169.80 751.05,170.22" fill="none" stroke="#2050b0" stroke-width="1"/>
<path d="M493.45 169.60L496.85 163.60L490.05 163.60Z"/><path d="M497.74 169.48L501.14 163.48L494.34 163.48Z"/><path d="M502.04 169.15L505.44 163.15L498.64 163.15Z"/><path d="M506.33 168.66L509.73 162.66L502.93 162.66Z"/><path d="M510.62 168.02L514.02 162.02L507.22 162.02Z"/><path d="M514.92 167.28L518.32 161.28L511.52 161.28Z"/><path d="M519.21 166.46L522.61 160.46L515.81 160.46Z"/><path d="M523.50 165.58L526.90 159.58L520.10 159.58Z"/><path d="M527.80 164.54L531.20 158.54L524.40 158.54Z"/><path d="M532.09 163.11L535.49 157.11L528.69 157.11Z"/><path d="M536.38 161.86L539.78 155.86L532.98 155.86Z"/><path d="M540.68 160.58L544.08 154.58L537.28 154.58Z"/><path d="M544.97 159.16L548.37 153.16L541.57 153.16Z"/><path d="M549.26 157.68L552.66 151.68L545.86 151.68Z"/><path d="M553.56 156.18L556.96 150.18L550.16 150.18Z"/><path d="M557.85 154.61L561.25 148.61L554.45 148.61Z"/><path d="M562.14 152.94L565.54 146.94L558.74 146.94Z"/><path d="M566.44 151.14L569.84 145.14L563.04 145.14Z"/><path d="M570.73 149.13L574.13 143.13L567.33 143.13Z"/><path d="M575.02 146.95L578.42 140.95L571.62 140.95Z"/><path d="M579.32 144.80L582.72 138.80L575.92 138.80Z"/><path d="M583.61 142.62L587.01 136.62L580.21 136.62Z"/><path d="M587.90 140.07L591.30 134.07L584.50 134.07Z"/><path d="M592.20 136.96L595.60 130.96L588.80 130.96Z"/><path d="M596.49 132.83L599.89 126.83L593.09 126.83Z"/><path d="M600.78 126.43L604.18 120.43L597.38 120.43Z"/><path d="M605.08 117.38L608.48 111.38L601.68 111.38Z"/><path d="M609.37 103.82L612.77 97.82L605.97 97.82Z"/><path d="M613.66 90.22L617.06 84.22L610.26 84.22Z"/><path d="M617.96 59.77L621.36 53.77L614.56 53.77Z"/><path d="M622.25 38.61L625.65 32.61L618.85 32.61Z"/><path d="M626.54 61.77L629.94 55.77L623.14 55.77Z"/><path d="M630.84 92.17L634.24 86.17L627.44 86.17Z"/><path d="M635.13 107.58L638.53 101.58L631.73 101.58Z"/><path d="M639.42 117.04L642.82 111.04L636.02 111.04Z"/><path d="M643.72 123.82L647.12 117.82L640.32 117.82Z"/><path d="M648.01 129.61L651.41 123.61L644.61 123.61Z"/><path d="M652.30 134.80L655.70 128.80L648.90 128.80Z"/><path d="M656.60 139.20L660.00 133.20L653.20 133.20Z"/><path d="M660.89 142.78L664.29 136.78L657.49 136.78Z"/><path d="M665.18 146.08L668.58 140.08L661.78 140.08Z"/><path d="M669.48 149.09L672.88 143.09L666.08 143.09Z"/><path d="M673.77 151.82L677.17 145.82L670.37 145.82Z"/><path d="M678.06 154.28L681.46 148.28L674.66 148.28Z"/><path d="M682.36 156.51L685.76 150.51L678.96 150.51Z"/><path d="M686.65 158.58L690.05 152.58L683.25 152.58Z"/><path d="M690.94 160.46L694.34 154.46L687.54 154.46Z"/><path d="M695.24 162.18L698.64 156.18L691.84 156.18Z"/><path d="M699.53 163.71L702.93 157.71L696.13 157.71Z"/><path d="M703.82 165.10L707.22 159.10L700.42 159.10Z"/><path d="M708.12 166.40L711.52 160.40L704.72 160.40Z"/><path d="M712.41 167.58L715.81 161.58L709.01 161.58Z"/><path d="M716.70 168.66L720.10 162.66L713.30 162.66Z"/><path d="M721.00 169.62L724.40 163.62L717.60 163.62Z"/><path d="M725.29 170.46L728.69 164.46L721.89 164.46Z"/><path d="M729.58 171.25L732.98 165.25L726.18 165.25Z"/><path d="M733.88 172.00L737.28 166.00L730.48 166.00Z"/><path d="M738.17 172.68L741.57 166.68L734.77 166.68Z"/><path d="M742.46 173.29L745.86 167.29L739.06 167.29Z"/><path d="M746.76 173.80L750.16 167.80L743.36 167.80Z"/><path d="M751.05 174.22L754.45 168.22L747.65 168.22Z"/>
</g>
<g fill="#000000"><path d="M263.20 29.50H299.50" stroke="#000000" stroke-width="1.2"/><rect x="278.85" y="27.00" width="5.00" height="5.00"/></g>
<text x="305.00" y="33.45" class="tl">Angle=30°</text>
<g fill="#dd1111"><path d="M263.20 51.80H299.50" stroke="#dd1111" stroke-width="1.2"/><circle cx="281.35" cy="51.80" r="2.70"/></g>
<text x="305.00" y="55.75" class="tl">Angle=45°</text>
<g fill="#55bb22"><path d="M263.20 74.40H299.50" stroke="#55bb22" stroke-width="1.2"/><path d="M281.35 70.60L284.50 76.30L278.20 76.30Z"/></g>
<text x="305.00" y="78.35" class="tl">Angle=60°</text>
<g fill="#2050b0"><path d="M263.20 96.50H299.50" stroke="#2050b0" stroke-width="1.2"/><path d="M281.35 100.30L284.50 94.60L278.20 94.60Z"/></g>
<text x="305.00" y="100.45" class="tl">Angle=90°</text>
<g fill="#000000"><path d="M673.00 38.30H708.20" stroke="#000000" stroke-width="1.2"/><rect x="688.20" y="35.90" width="4.80" height="4.80"/></g>
<text x="714.30" y="41.20" class="tl">Angle=30°</text>
<g fill="#dd1111"><path d="M673.00 60.60H708.20" stroke="#dd1111" stroke-width="1.2"/><circle cx="690.60" cy="60.60" r="2.59"/></g>
<text x="714.30" y="63.50" class="tl">Angle=45°</text>
<g fill="#55bb22"><path d="M673.00 82.70H708.20" stroke="#55bb22" stroke-width="1.2"/><path d="M690.60 78.90L693.75 84.60L687.45 84.60Z"/></g>
<text x="714.30" y="85.60" class="tl">Angle=60°</text>
<g fill="#2050b0"><path d="M673.00 105.20H708.20" stroke="#2050b0" stroke-width="1.2"/><path d="M690.60 109.00L693.75 103.30L687.45 103.30Z"/></g>
<text x="714.30" y="108.10" class="tl">Angle=90°</text>
</svg>
</body></html>
